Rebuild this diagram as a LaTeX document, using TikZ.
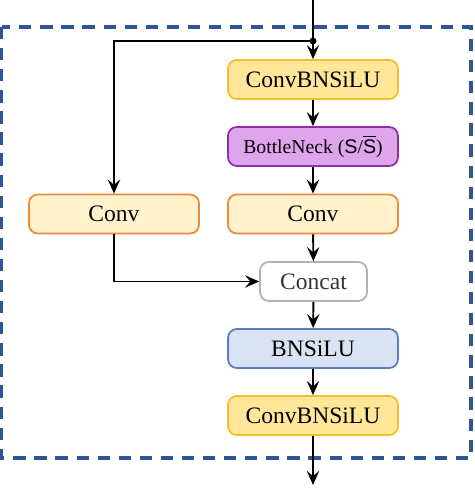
\documentclass[tikz,border=0pt]{standalone}
\usepackage{fontspec}
\setmainfont{Liberation Serif}
\setsansfont{Liberation Sans}
\usetikzlibrary{arrows.meta}
\definecolor{cbsfill}{HTML}{FFE699}
\definecolor{cbsdraw}{HTML}{F4BF2A}
\definecolor{convfill}{HTML}{FFF2CC}
\definecolor{convdraw}{HTML}{ED8B3C}
\definecolor{bnfill}{HTML}{DFA5EC}
\definecolor{bndraw}{HTML}{8E2FA8}
\definecolor{silufill}{HTML}{DAE3F3}
\definecolor{siludraw}{HTML}{5A7DBD}
\definecolor{framecol}{HTML}{2F5597}
\begin{document}
\begin{tikzpicture}
        [x=0.02cm, y=-0.02cm,
        block/.style={rounded corners=5pt, line width=1pt, minimum width=3.4cm, minimum height=0.78cm, font=\fontsize{13.4}{15}\selectfont, inner sep=0pt},
        cbs/.style={block, draw=cbsdraw, fill=cbsfill},
        conv/.style={block, draw=convdraw, fill=convfill},
        neck/.style={block, draw=bndraw, fill=bnfill, font=\fontsize{11.2}{13}\selectfont},
        bns/.style={block, draw=siludraw, fill=silufill},
        cat/.style={block, draw=black!30, fill=white, minimum width=2.14cm, text=black!80},
        flow/.style={line width=1.1pt, black, -{Stealth[length=8pt, width=7pt, inset=3pt]}}]

        \useasboundingbox (0,0) rectangle (474,493);

        % outer dashed frame
        \draw[framecol, line width=2pt, dash pattern=on 7pt off 5pt] (1.5,27) rectangle (471,458);

        \node[cbs] (cbs1) at (313,79.5) {ConvBNSiLU};
        \node[neck] (neck) at (313,146.5) {BottleNeck (\textsf{S}/$\overline{\mbox{\textsf{S}}}$)};
        \node[conv] (convr) at (313,214) {Conv};
        \node[conv] (convl) at (114,214) {Conv};
        \node[cat] (concat) at (313.5,281.5) {Concat};
        \node[bns] (bns) at (313,348.5) {BNSiLU};
        \node[cbs] (cbs2) at (313,415.5) {ConvBNSiLU};

        \coordinate (in) at (313,0);
        \coordinate (split) at (313,41);
        \coordinate (out) at (313,485);

        % main path
        \draw[flow] (in) -- (cbs1);
        \fill (split) circle (3.5);
        \draw[flow] (cbs1) -- (neck);
        \draw[flow] (neck) -- (convr);
        \draw[flow] (convr) -- (concat);
        \draw[flow] (concat) -- (bns);
        \draw[flow] (bns) -- (cbs2);
        \draw[flow] (cbs2) -- (out);

        % side branch
        \draw[flow] (split) -| (convl);
        \draw[flow] (convl) |- (concat);

    \end{tikzpicture}
\end{document}
